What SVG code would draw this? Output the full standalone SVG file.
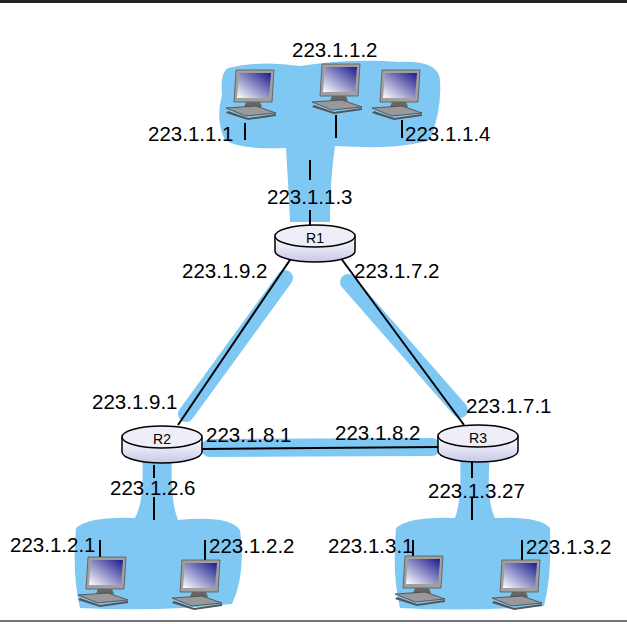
<svg xmlns="http://www.w3.org/2000/svg" width="627" height="624" viewBox="0 0 627 624">
<style>
.t{font-family:"Liberation Sans",Arial,sans-serif;font-size:20.5px;fill:#000}
.r{font-family:"Liberation Sans",Arial,sans-serif;font-size:14px;fill:#000;text-anchor:middle}
.l{stroke:#000;stroke-width:2;fill:none}
.b{fill:#80c8f4}
.bs{stroke:#80c8f4;fill:none;stroke-linecap:round}
</style>
<defs>
<linearGradient id="sc" x1="0" y1="1" x2="1" y2="0"><stop offset="0" stop-color="#fff"/><stop offset="1" stop-color="#1a1a8c"/></linearGradient>
<linearGradient id="rg" x1="0" y1="0" x2="0" y2="1"><stop offset="0" stop-color="#fff"/><stop offset="1" stop-color="#c8c8e8"/></linearGradient>
<g id="pc">
<polygon points="10,0 48,0 46,32 8,32" fill="#a0a0a0" stroke="#555" stroke-width="0.8"/>
<polygon points="13,3 45,3 43,28 11,28" fill="url(#sc)"/>
<polygon points="20,32 34,32 36,37 18,37" fill="#666"/>
<polygon points="0,38 30,36 50,43 20,46" fill="#999" stroke="#444" stroke-width="0.8"/>
<polygon points="2,41 22,48 50,44 50,46 22,50 0,43" fill="#555"/>
</g>
<g id="rt">
<path d="M-40,0 v15 a40,11 0 0 0 80,0 v-15" fill="url(#rg)" stroke="#000" stroke-width="1.5"/>
<ellipse cx="0" cy="0" rx="40" ry="11" fill="#eeeef8" stroke="#000" stroke-width="1.5"/>
</g>
</defs>
<rect width="627" height="624" fill="#fff"/>
<line x1="0" y1="1.5" x2="627" y2="1.5" stroke="#222" stroke-width="3"/>
<line x1="0" y1="621" x2="627" y2="621" stroke="#444" stroke-width="1.5"/>
<g id="subnets">
<path class="b" d="M228,68 Q260,60 300,66 Q350,58 400,62 Q438,60 440,80 Q442,110 430,140 Q400,150 335,146 Q330,180 330,222 L290,222 Q288,180 286,148 Q240,150 225,140 Q215,120 222,95 Q220,72 228,68Z"/>
<path class="b" d="M142,455 L172,455 Q170,500 178,520 Q230,515 240,530 Q246,575 232,604 Q160,612 80,608 Q72,575 76,528 Q90,516 135,518 Q145,500 142,455Z"/>
<path class="b" d="M460,455 L490,455 Q486,500 495,518 Q540,516 550,528 Q552,575 544,606 Q470,612 400,608 Q392,575 396,528 Q410,516 455,518 Q462,500 460,455Z"/>
<line class="bs" x1="285" y1="278" x2="186" y2="414" stroke-width="16"/>
<line class="bs" x1="348" y1="282" x2="460" y2="410" stroke-width="16"/>
<line class="bs" x1="210" y1="448" x2="432" y2="447" stroke-width="18"/>
</g>
<g id="connectors">
<line class="l" x1="245" y1="123" x2="245" y2="140"/>
<line class="l" x1="336" y1="115" x2="336" y2="138"/>
<line class="l" x1="402" y1="120" x2="402" y2="138"/>
<line class="l" x1="310" y1="160" x2="310" y2="180"/>
<line class="l" x1="310" y1="210" x2="310" y2="226"/>
<line class="l" x1="292" y1="257" x2="178" y2="425"/>
<line class="l" x1="340" y1="257" x2="464" y2="425"/>
<line class="l" x1="202" y1="449" x2="440" y2="447"/>
<line class="l" x1="154" y1="465" x2="154" y2="478"/>
<line class="l" x1="154" y1="497" x2="154" y2="520"/>
<line class="l" x1="472" y1="462" x2="472" y2="478"/>
<line class="l" x1="472" y1="497" x2="472" y2="520"/>
<line class="l" x1="100" y1="540" x2="100" y2="557"/>
<line class="l" x1="205" y1="540" x2="205" y2="561"/>
<line class="l" x1="413" y1="540" x2="413" y2="557"/>
<line class="l" x1="522" y1="540" x2="522" y2="561"/>
</g>
<g id="hosts">
<use href="#pc" x="226" y="70"/>
<use href="#pc" x="312" y="64"/>
<use href="#pc" x="372" y="70"/>
<use href="#pc" x="78" y="557"/>
<use href="#pc" x="172" y="560"/>
<use href="#pc" x="395" y="556"/>
<use href="#pc" x="492" y="560"/>
</g>
<g id="R1"><use href="#rt" x="315" y="236"/><text class="r" x="315" y="243">R1</text></g>
<g id="R2"><use href="#rt" x="162" y="437"/><text class="r" x="162" y="444">R2</text></g>
<g id="R3"><use href="#rt" x="478" y="436"/><text class="r" x="478" y="443">R3</text></g>
<g id="labels">
<text class="t" x="292" y="57">223.1.1.2</text>
<text class="t" x="148" y="141">223.1.1.1</text>
<text class="t" x="405" y="141">223.1.1.4</text>
<text class="t" x="267" y="204">223.1.1.3</text>
<text class="t" x="182" y="278">223.1.9.2</text>
<text class="t" x="354" y="278">223.1.7.2</text>
<text class="t" x="92" y="409">223.1.9.1</text>
<text class="t" x="466" y="413">223.1.7.1</text>
<text class="t" x="206" y="442">223.1.8.1</text>
<text class="t" x="335" y="440">223.1.8.2</text>
<text class="t" x="110" y="495">223.1.2.6</text>
<text class="t" x="428" y="498">223.1.3.27</text>
<text class="t" x="10" y="552">223.1.2.1</text>
<text class="t" x="209" y="553">223.1.2.2</text>
<text class="t" x="328" y="553">223.1.3.1</text>
<text class="t" x="526" y="554">223.1.3.2</text>
</g>
</svg>
